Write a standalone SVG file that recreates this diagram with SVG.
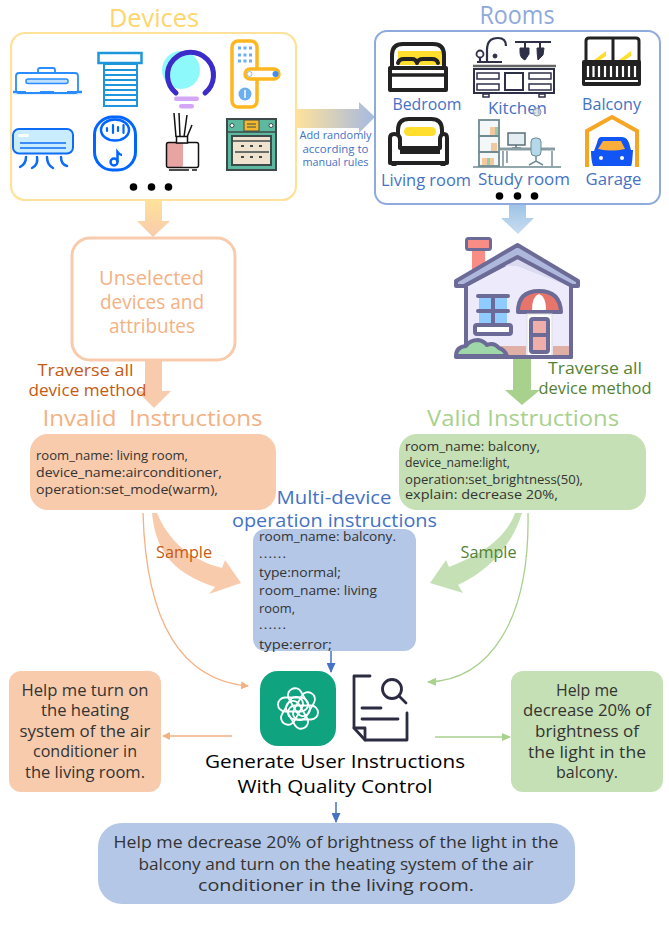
<svg xmlns="http://www.w3.org/2000/svg" width="669" height="932" viewBox="0 0 669 932">
<style>
text{font-family:"Open Sans","Noto Sans","DejaVu Sans",sans-serif;text-anchor:middle}
.l{text-anchor:start;fill:#333;font-size:13.5px}
.rm{fill:#4472C4;font-size:16.5px}
.ins{fill:#333;font-size:15.5px}
.k{fill:none;stroke:#222;stroke-width:4;stroke-linejoin:round;stroke-linecap:round}
.hs{stroke:#6C6A96;stroke-width:4;stroke-linejoin:round;stroke-linecap:round}
.dev{fill:none;stroke:#0E6CF5;stroke-width:2.5;stroke-linecap:round}
</style>
<defs>
<linearGradient id="gr" x1="0" x2="1" y1="0" y2="0"><stop offset="0" stop-color="#FFE29A"/><stop offset="1" stop-color="#A5B9E2"/></linearGradient>
<linearGradient id="go" x1="0" x2="0" y1="0" y2="1"><stop offset="0" stop-color="#FFE29A"/><stop offset="1" stop-color="#F8CBAD"/></linearGradient>
<linearGradient id="gb" x1="0" x2="0" y1="0" y2="1"><stop offset="0" stop-color="#9DC3E6"/><stop offset="1" stop-color="#C9DDF0"/></linearGradient>
<marker id="mo" markerWidth="8" markerHeight="8" refX="7" refY="4" orient="auto" markerUnits="userSpaceOnUse" viewBox="0 0 8 8"><path d="M0 0L8 4L0 8Z" fill="#F4B183"/></marker>
<marker id="mg" markerWidth="9" markerHeight="8" refX="8" refY="4" orient="auto" markerUnits="userSpaceOnUse" viewBox="0 0 9 8"><path d="M0 0L9 4L0 8Z" fill="#A9D18E"/></marker>
<marker id="mb" markerWidth="10" markerHeight="9" refX="9" refY="4.5" orient="auto" markerUnits="userSpaceOnUse" viewBox="0 0 10 9"><path d="M0 0L10 4.5L0 9Z" fill="#4472C4"/></marker>
</defs>
<rect width="669" height="932" fill="#fff"/>

<g id="connectors">
<path d="M296 109H359V102L375 117L359 133V128H296Z" fill="url(#gr)"/>
<path d="M145 199H162V221H170L153 237L137 221H145Z" fill="url(#go)"/>
<path d="M509 204H526V218H534L518 234L501 218H509Z" fill="url(#gb)"/>
<path d="M145 360H162V391H171L154 408L137 391H145Z" fill="#F8CBAD"/>
<path d="M513 358H531V390H540L522 405L505 390H513Z" fill="#A9D18E"/>
<path d="M152 513C155 545 168 572 215 587L209 594L241 583L225 560L222 568C190 560 168 540 157 513Z" fill="#F8CBAD"/>
<path d="M522 513C512 545 490 570 458 585L463 593L430 583L446 560L449 567C480 555 505 540 515 513Z" fill="#C5E0B4"/>
<path d="M143 513C146 620 180 680 248 686" fill="none" stroke="#F4B183" stroke-width="1.300" marker-end="url(#mo)"/>
<path d="M528 513C530 620 490 680 428 682" fill="none" stroke="#A9D18E" stroke-width="1.300" marker-end="url(#mg)"/>
<path d="M232 736H163" fill="none" stroke="#F4B183" stroke-width="1.300" marker-end="url(#mo)"/>
<path d="M435 737H510" fill="none" stroke="#A9D18E" stroke-width="1.300" marker-end="url(#mg)"/>
<path d="M331 651V672" fill="none" stroke="#4472C4" stroke-width="1.500" marker-end="url(#mb)"/>
<path d="M336 802V822" fill="none" stroke="#4472C4" stroke-width="1.500" marker-end="url(#mb)"/>
</g>

<g id="devices">
<rect x="11" y="33" width="285" height="167" rx="14" fill="#fff" stroke="#FFE29A" stroke-width="2.200"/>
<text x="154" y="27" font-size="26" fill="#FFD56E" textLength="90" lengthAdjust="spacingAndGlyphs">Devices</text>
<g id="icon-cassette">
<rect x="13" y="90" width="69" height="4.500" fill="#CCE4FB"/>
<rect x="38" y="68" width="17" height="6" rx="2" fill="#fff" stroke="#2B8CFF" stroke-width="1.800"/>
<rect x="16" y="73" width="62" height="20" rx="3" fill="#fff" stroke="#2B8CFF" stroke-width="1.800"/>
<rect x="26" y="79" width="42" height="4.500" rx="2" fill="#BFE0FF" stroke="#2B8CFF" stroke-width="1.500"/>
<path d="M13 92H26M40 92H54M67 92H82" stroke="#2B8CFF" stroke-width="1.800"/>
</g>
<g id="icon-blinds" fill="none" stroke="#1E96DC">
<rect x="98.500" y="53" width="43" height="10" stroke-width="2.500" fill="#fff"/>
<rect x="104" y="64" width="33" height="42" stroke-width="2"/>
<path d="M105 70H136M105 75H136M105 80H136M105 85H136M105 90H136M105 95H136M105 100H136" stroke-width="2"/>
</g>
<g id="icon-bulb">
<circle cx="181" cy="70" r="19" fill="#8EF9FA"/>
<path d="M176 93A23 23 0 1 1 205 93" fill="none" stroke="#3B2CC9" stroke-width="5" stroke-linecap="round"/>
<rect x="174" y="96.500" width="25" height="4.500" rx="2.200" fill="#D5A6F5"/>
<rect x="179" y="104" width="15" height="4.500" rx="2.200" fill="#D5A6F5"/>
</g>
<g id="icon-lock">
<rect x="232" y="41" width="25" height="66" rx="6" fill="#fff" stroke="#FFB71F" stroke-width="3.500"/>
<rect x="245" y="69" width="34" height="10" rx="5" fill="#fff" stroke="#FFB71F" stroke-width="3.500"/>
<circle cx="275.500" cy="74" r="3" fill="#3E8FEF"/>
<circle cx="249.500" cy="74" r="2.500" fill="#fff" stroke="#8DBDF2"/>
<circle cx="245" cy="94" r="6.500" fill="#6AAFF0"/>
<path d="M245 90V98" stroke="#fff" stroke-width="1.500"/>
<path d="M238 48h3M243.500 48h3M249 48h3M238 55h3M243.500 55h3M249 55h3M238 61h3M243.500 61h3M249 61h3" stroke="#6AAFF0" stroke-width="3"/>
</g>
<g id="icon-ac">
<rect x="13" y="129" width="60" height="24.500" rx="6" fill="#C9EDFE" stroke="#0E6CF5" stroke-width="2"/>
<rect x="18" y="134" width="11" height="3" rx="1.500" fill="#fff"/>
<path d="M20 143H66M20 148H66" stroke="#0E6CF5" stroke-width="1.500"/>
<path class="dev" d="M26 157C26 162 24 165 20 167M37 157C38 162 36 166 32 168M47 157C47 162 49 166 53 168M61 157C61 162 63 165 67 166"/>
</g>
<g id="icon-speaker">
<rect x="94.500" y="117" width="41" height="53" rx="18" fill="#fff" stroke="#0066FF" stroke-width="3"/>
<ellipse cx="115" cy="130" rx="14" ry="10.500" fill="#fff" stroke="#0066FF" stroke-width="2.500"/>
<path d="M107 128V131M113 125V133M118 127V131M123.500 125V133" stroke="#0066FF" stroke-width="2.200" stroke-linecap="round"/>
<circle cx="114" cy="162" r="3.500" fill="none" stroke="#0066FF" stroke-width="2.500"/>
<path d="M117.500 162V152C119 154 121 155 122 155" fill="none" stroke="#0066FF" stroke-width="2.500"/>
</g>
<g id="icon-diffuser">
<path d="M176 137L174 113M180 137L179 113M184 137L187 115M187 137L192 125" stroke="#111" stroke-width="1.500"/>
<rect x="167" y="142" width="16" height="25" rx="2" fill="#E8A3A3"/>
<rect x="166.500" y="142.500" width="32" height="25" rx="2" fill="none" stroke="#111" stroke-width="1.500"/>
<rect x="176.500" y="136.500" width="11" height="6.500" fill="#fff" stroke="#111" stroke-width="1.500"/>
<path d="M169 170H189M192 170H197" stroke="#111" stroke-width="1.500"/>
</g>
<g id="icon-oven">
<rect x="227" y="119" width="49" height="51" fill="#5DB8A0" stroke="#3E4A4A" stroke-width="2"/>
<path d="M227 132H276" stroke="#3E4A4A" stroke-width="1.500"/>
<rect x="244" y="120" width="15" height="11" fill="#F5B82E" stroke="#3E4A4A"/>
<path d="M247 124H256M247 127H256" stroke="#3E4A4A"/>
<circle cx="232" cy="125.500" r="2" fill="#fff" stroke="#3E4A4A"/>
<circle cx="271" cy="125.500" r="2" fill="#fff" stroke="#3E4A4A"/>
<rect x="232" y="136" width="39" height="29" fill="#EFE3CF" stroke="#3E4A4A" stroke-width="2"/>
<path d="M232 141H271M235 152H269" stroke="#3E4A4A" stroke-width="1.500"/>
<path d="M241 146h3M250 146h3M259 146h3M241 157h3M250 157h3M259 157h3" stroke="#3E4A4A" stroke-width="2"/>
</g>
<circle cx="133.500" cy="187" r="3.800"/><circle cx="151.500" cy="187" r="3.800"/><circle cx="168.500" cy="187" r="3.800"/>
</g>

<g id="rooms">
<rect x="375" y="31" width="285" height="173" rx="12" fill="#fff" stroke="#8FAADC" stroke-width="2"/>
<text x="517" y="24" font-size="25" fill="#8FA9DC" textLength="75" lengthAdjust="spacingAndGlyphs">Rooms</text>
<g id="icon-bed">
<rect x="398" y="51" width="48" height="14" fill="#FFDE2E"/>
<path class="k" d="M392 66V55Q392 44 403 44H433Q444 44 444 55V66"/>
<path class="k" d="M398 63Q399 59 404 59H412Q416 59 417 63Q418 59 423 59H432Q437 59 438 63"/>
<path class="k" style="fill:#fff" d="M390 68H446V90H390Z"/>
<path d="M390 75H446" stroke="#222" stroke-width="3.500"/>
<path d="M394 90V91M441 90V91" stroke="#222" stroke-width="5"/>
</g>
<g id="icon-kitchen" fill="none" stroke="#2E3048">
<circle cx="480" cy="54" r="3.500" stroke-width="1.800"/>
<path d="M477 62H502M480 58V62M487 62V50Q487 38 498 38Q506 38 506 46" stroke-width="2.200"/>
<circle cx="495" cy="56" r="2" fill="#2E3048"/>
<path d="M515 42H551M525 42V48M540 42V48" stroke-width="2"/>
<path d="M520 48H529V54L525 60Q520 58 520 52ZM537 48H544L543 55L538 60Q537 54 537 48Z" fill="#2E3048"/>
<path d="M473 66H556" stroke-width="2.500" stroke="#666"/>
<rect x="474" y="69" width="80" height="24" stroke-width="2"/>
<rect x="477" y="73" width="22" height="6" stroke-width="1.500"/><rect x="477" y="84" width="22" height="6" stroke-width="1.500"/>
<rect x="529" y="73" width="22" height="6" stroke-width="1.500"/><rect x="529" y="84" width="22" height="6" stroke-width="1.500"/>
<rect x="505" y="73" width="18" height="17" stroke-width="2"/>
<path d="M483 94H489V97H483ZM539 94H545V97H539Z" stroke-width="1.500"/>
</g>
<g id="icon-balcony">
<path d="M586 63V41Q586 38 589 38H636Q639 38 639 41V63" fill="none" stroke="#222" stroke-width="3"/>
<path d="M613 38V63" stroke="#222" stroke-width="3"/>
<path d="M594 60L606 51V56L600 60ZM619 60L631 51V56L625 60Z" fill="#FFDE2E"/>
<rect x="582" y="60" width="59" height="26" rx="2" fill="#222"/>
<path d="M588 66V77M593.500 66V77M599 66V77M605 66V77M611 66V77M617 66V77M623 66V77M629 66V77M635 66V77M585 81H638" stroke="#fff" stroke-width="2.200"/>
</g>
<g id="icon-sofa">
<path class="k" style="fill:#fff" d="M398 135V130Q398 119 409 119H431Q442 119 442 130V135"/>
<rect x="404" y="127" width="32" height="9" rx="4.500" fill="#FFDE2E"/>
<path class="k" style="fill:#fff" d="M390 138Q390 134 394 134Q400 134 400 140V148H440V140Q440 134 444 134Q447 134 447 138V163H390Z"/>
<path d="M400 152H440" stroke="#222" stroke-width="4"/>
<path d="M394 164V166M443 164V166" stroke="#222" stroke-width="5"/>
</g>
<g id="icon-study">
<rect x="479" y="120" width="20" height="46" fill="#F4F7F8" stroke="#6E8A90" stroke-width="1.800"/>
<path d="M479 136H499M479 152H499" stroke="#6E8A90" stroke-width="1.800"/>
<path d="M490 127h7v8h-7ZM491 143h6v8h-6ZM482 158h12v7h-12Z" fill="#F0C9A0"/>
<path d="M495 127h3v8h-3ZM487 158h3v7h-3Z" fill="#9BCBA8"/>
<rect x="508" y="133" width="17" height="12" fill="#E4EEF2" stroke="#5B6E78" stroke-width="1.500"/>
<path d="M516 145V148M512 148H521" stroke="#5B6E78" stroke-width="1.500"/>
<path d="M500 149H555" stroke="#8A9CA3" stroke-width="3"/>
<path d="M503 151V166M552 151V166M507 151V163" stroke="#9AA9AF" stroke-width="2"/>
<rect x="531" y="138" width="10" height="18" rx="4" fill="#B4D8EA" stroke="#6E8A90"/>
<path d="M536 156V161M529 165L536 161L543 165" stroke="#6E8A90" stroke-width="1.500" fill="none"/>
<path d="M473 167H561" stroke="#6E8A90" stroke-width="1.500"/>
</g>
<g id="icon-garage">
<path d="M587 167V131L612 117L637 131V167" fill="none" stroke="#F6A623" stroke-width="4"/>
<path d="M601 137H622Q627 137 629 143L631 150H633Q632 166 631 166H593Q591 160 591 151H594L597 143Q598 137 601 137Z" fill="#1155F5"/>
<path d="M603 141H621L625 149Q612 152 598 149Z" fill="#FBAE3C"/>
<circle cx="601" cy="158" r="2" fill="#fff"/><circle cx="622" cy="158" r="2" fill="#fff"/>
</g>
<g class="rm">
<text x="427" y="110" textLength="69" lengthAdjust="spacingAndGlyphs">Bedroom</text>
<text x="517.500" y="114" textLength="59" lengthAdjust="spacingAndGlyphs">Kitchen</text>
<text x="611.500" y="110" textLength="59" lengthAdjust="spacingAndGlyphs">Balcony</text>
<text x="426" y="186" textLength="90" lengthAdjust="spacingAndGlyphs">Living room</text>
<text x="524" y="185" textLength="92" lengthAdjust="spacingAndGlyphs">Study room</text>
<text x="613.500" y="185" textLength="56" lengthAdjust="spacingAndGlyphs">Garage</text>
</g>
<circle cx="537" cy="112" r="4" fill="#cfd8dc" fill-opacity=".6" stroke="#8a9aa3"/>
<circle cx="499.500" cy="196" r="3.800"/><circle cx="517.500" cy="196" r="3.800"/><circle cx="534.500" cy="196" r="3.800"/>
</g>

<g id="add-label" fill="#4472C4" font-size="11">
<text x="335.500" y="139" textLength="72" lengthAdjust="spacingAndGlyphs">Add randomly</text>
<text x="335.500" y="153" textLength="66" lengthAdjust="spacingAndGlyphs">according to</text>
<text x="335.500" y="166" textLength="66" lengthAdjust="spacingAndGlyphs">manual rules</text>
</g>

<g id="house">
<rect x="472" y="250" width="13" height="20" fill="#FA8C86"/>
<rect x="466.500" y="238.500" width="24" height="11" rx="2" fill="#FA8C86" stroke="#6C6A96" stroke-width="3"/>
<path class="hs" fill="#EDEBFB" d="M466 285V357H571V285L517 258Z"/>
<path d="M500 266L517 258L566 283V285L517 266Z" fill="#DADAF0"/>
<path class="hs" fill="#AEB7DC" d="M456 281L517.500 245L578 281V286L572 286L517.500 257L464 286H456Z"/>
<rect x="479" y="296" width="28" height="30" fill="#8FCBFF"/>
<path class="hs" d="M478 296H508M478 311H508M493 296V326" fill="none"/>
<rect x="475" y="325" width="36" height="9" rx="2" fill="#fff" class="hs"/>
<path class="hs" fill="#E8756C" d="M518 312Q518 291 539 291Q560 291 561 312Z"/>
<path d="M532 310Q532 296 539 294Q546 296 546 310Z" fill="#fff"/>
<rect x="527" y="314" width="25" height="43" fill="#fff" stroke="#ddd"/>
<rect x="531" y="319" width="17" height="33" rx="2" fill="#EFAEAA" class="hs"/>
<path class="hs" d="M531 335H548"/>
<rect x="501" y="346" width="25" height="10" fill="#E0AFA6"/><rect x="553" y="346" width="16" height="10" fill="#E0AFA6"/>
<path class="hs" fill="#9FD7A8" d="M456 356Q456 347 466 346Q470 340 478 340Q484 341 487 345Q494 342 499 348Q505 350 507 356Z"/>
<path class="hs" d="M456 357H571" fill="none"/>
</g>

<g id="unselected">
<rect x="72" y="238" width="163" height="122" rx="18" fill="#fff" stroke="#F8CBAD" stroke-width="3"/>
<g fill="#F4B183" font-size="20">
<text x="151.500" y="285" textLength="105" lengthAdjust="spacingAndGlyphs">Unselected</text>
<text x="152" y="309" textLength="104" lengthAdjust="spacingAndGlyphs">devices and</text>
<text x="152" y="333" textLength="86" lengthAdjust="spacingAndGlyphs">attributes</text>
</g>
</g>

<g id="traverse-left" fill="#C55A11" font-size="16">
<text x="85.500" y="376" textLength="96" lengthAdjust="spacingAndGlyphs">Traverse all</text>
<text x="87.500" y="396" textLength="118" lengthAdjust="spacingAndGlyphs">device method</text>
</g>
<g id="traverse-right" fill="#548235" font-size="16">
<text x="595" y="374" textLength="94" lengthAdjust="spacingAndGlyphs">Traverse all</text>
<text x="595" y="394" textLength="113" lengthAdjust="spacingAndGlyphs">device method</text>
</g>

<g id="invalid">
<text x="152.500" y="426" font-size="22" fill="#F4B183" textLength="220" lengthAdjust="spacingAndGlyphs" xml:space="preserve">Invalid  Instructions</text>
<rect x="30" y="434" width="246" height="76" rx="18" fill="#F8CBAD"/>
<text class="l" x="36" y="460" textLength="152" lengthAdjust="spacingAndGlyphs">room_name: living room,</text>
<text class="l" x="36" y="477" textLength="186" lengthAdjust="spacingAndGlyphs">device_name:airconditioner,</text>
<text class="l" x="36" y="494" textLength="182" lengthAdjust="spacingAndGlyphs">operation:set_mode(warm),</text>
</g>

<g id="valid">
<text x="523" y="426" font-size="22" fill="#A9D18E" textLength="192" lengthAdjust="spacingAndGlyphs">Valid Instructions</text>
<rect x="399" y="434" width="247" height="76" rx="18" fill="#C5E0B4"/>
<text class="l" x="405" y="451" textLength="135" lengthAdjust="spacingAndGlyphs">room_name: balcony,</text>
<text class="l" x="405" y="467" textLength="105" lengthAdjust="spacingAndGlyphs">device_name:light,</text>
<text class="l" x="405" y="484" textLength="178" lengthAdjust="spacingAndGlyphs">operation:set_brightness(50),</text>
<text class="l" x="405" y="499" textLength="153" lengthAdjust="spacingAndGlyphs">explain: decrease 20%,</text>
</g>

<g id="sample-left"><text x="184" y="558" font-size="15.500" fill="#C55A11" textLength="56" lengthAdjust="spacingAndGlyphs">Sample</text></g>
<g id="sample-right"><text x="488.500" y="558" font-size="15.500" fill="#548235" textLength="56" lengthAdjust="spacingAndGlyphs">Sample</text></g>

<g id="multi">
<rect x="253" y="529" width="163" height="122" rx="12" fill="#B4C7E7"/>
<text x="334" y="504" font-size="19" fill="#4472C4" textLength="115" lengthAdjust="spacingAndGlyphs">Multi-device</text>
<text x="334.500" y="527" font-size="19" fill="#4472C4" textLength="205" lengthAdjust="spacingAndGlyphs">operation instructions</text>
<text class="l" x="259" y="541" textLength="137" lengthAdjust="spacingAndGlyphs">room_name: balcony.</text>
<text class="l" x="259" y="558" textLength="27" lengthAdjust="spacing">......</text>
<text class="l" x="259" y="577" textLength="82" lengthAdjust="spacingAndGlyphs">type:normal;</text>
<text class="l" x="259" y="595" textLength="118" lengthAdjust="spacingAndGlyphs">room_name: living</text>
<text class="l" x="259" y="613" textLength="36" lengthAdjust="spacingAndGlyphs">room,</text>
<text class="l" x="259" y="629" textLength="27" lengthAdjust="spacing">......</text>
<text class="l" x="259" y="649" textLength="73" lengthAdjust="spacingAndGlyphs">type:error;</text>
</g>

<g id="chatgpt">
<rect x="260" y="671" width="76" height="75" rx="18" fill="#10A37F"/>
<g fill="none" stroke="#fff" stroke-width="1.800" transform="translate(298 708.500)">
<rect x="-20" y="-11" width="30" height="14" rx="7" transform="rotate(0)"/>
<rect x="-20" y="-11" width="30" height="14" rx="7" transform="rotate(60)"/>
<rect x="-20" y="-11" width="30" height="14" rx="7" transform="rotate(120)"/>
<rect x="-20" y="-11" width="30" height="14" rx="7" transform="rotate(180)"/>
<rect x="-20" y="-11" width="30" height="14" rx="7" transform="rotate(240)"/>
<rect x="-20" y="-11" width="30" height="14" rx="7" transform="rotate(300)"/>
</g>
</g>
<g id="doc" fill="none" stroke="#2B2B42" stroke-width="2.800" stroke-linecap="round" stroke-linejoin="round">
<path d="M370 676H354V728L365 740H407V713"/>
<path d="M354 728H365V740"/>
<circle cx="392" cy="689" r="9.500"/><path d="M399 696L406 703"/>
<path d="M362 708H381M362 719H398"/>
</g>
<g id="generate" fill="#000" font-size="19">
<text x="335" y="768" textLength="260" lengthAdjust="spacingAndGlyphs">Generate User Instructions</text>
<text x="335" y="793" textLength="195" lengthAdjust="spacingAndGlyphs">With Quality Control</text>
</g>

<g id="left-output">
<rect x="9" y="671" width="152" height="121" rx="12" fill="#F8CBAD"/>
<g class="ins">
<text x="85" y="696" textLength="127" lengthAdjust="spacingAndGlyphs">Help me turn on</text>
<text x="85" y="716" textLength="88" lengthAdjust="spacingAndGlyphs">the heating</text>
<text x="85" y="737" textLength="131" lengthAdjust="spacingAndGlyphs">system of the air</text>
<text x="85" y="757" textLength="104" lengthAdjust="spacingAndGlyphs">conditioner in</text>
<text x="85" y="778" textLength="120" lengthAdjust="spacingAndGlyphs">the living room.</text>
</g>
</g>
<g id="right-output">
<rect x="511" y="671" width="152" height="121" rx="12" fill="#C5E0B4"/>
<g class="ins">
<text x="587" y="696" textLength="62" lengthAdjust="spacingAndGlyphs">Help me</text>
<text x="587" y="716" textLength="128" lengthAdjust="spacingAndGlyphs">decrease 20% of</text>
<text x="587" y="737" textLength="104" lengthAdjust="spacingAndGlyphs">brightness of</text>
<text x="587" y="758" textLength="118" lengthAdjust="spacingAndGlyphs">the light in the</text>
<text x="587" y="778" textLength="62" lengthAdjust="spacingAndGlyphs">balcony.</text>
</g>
</g>
<g id="final">
<rect x="98" y="823" width="477" height="81" rx="24" fill="#B4C7E7"/>
<g fill="#333" font-size="17">
<text x="336" y="848" textLength="445" lengthAdjust="spacingAndGlyphs">Help me decrease 20% of brightness of the light in the</text>
<text x="336" y="870" textLength="395" lengthAdjust="spacingAndGlyphs">balcony and turn on the heating system of the air</text>
<text x="336" y="891" textLength="276" lengthAdjust="spacingAndGlyphs">conditioner in the living room.</text>
</g>
</g>
</svg>
